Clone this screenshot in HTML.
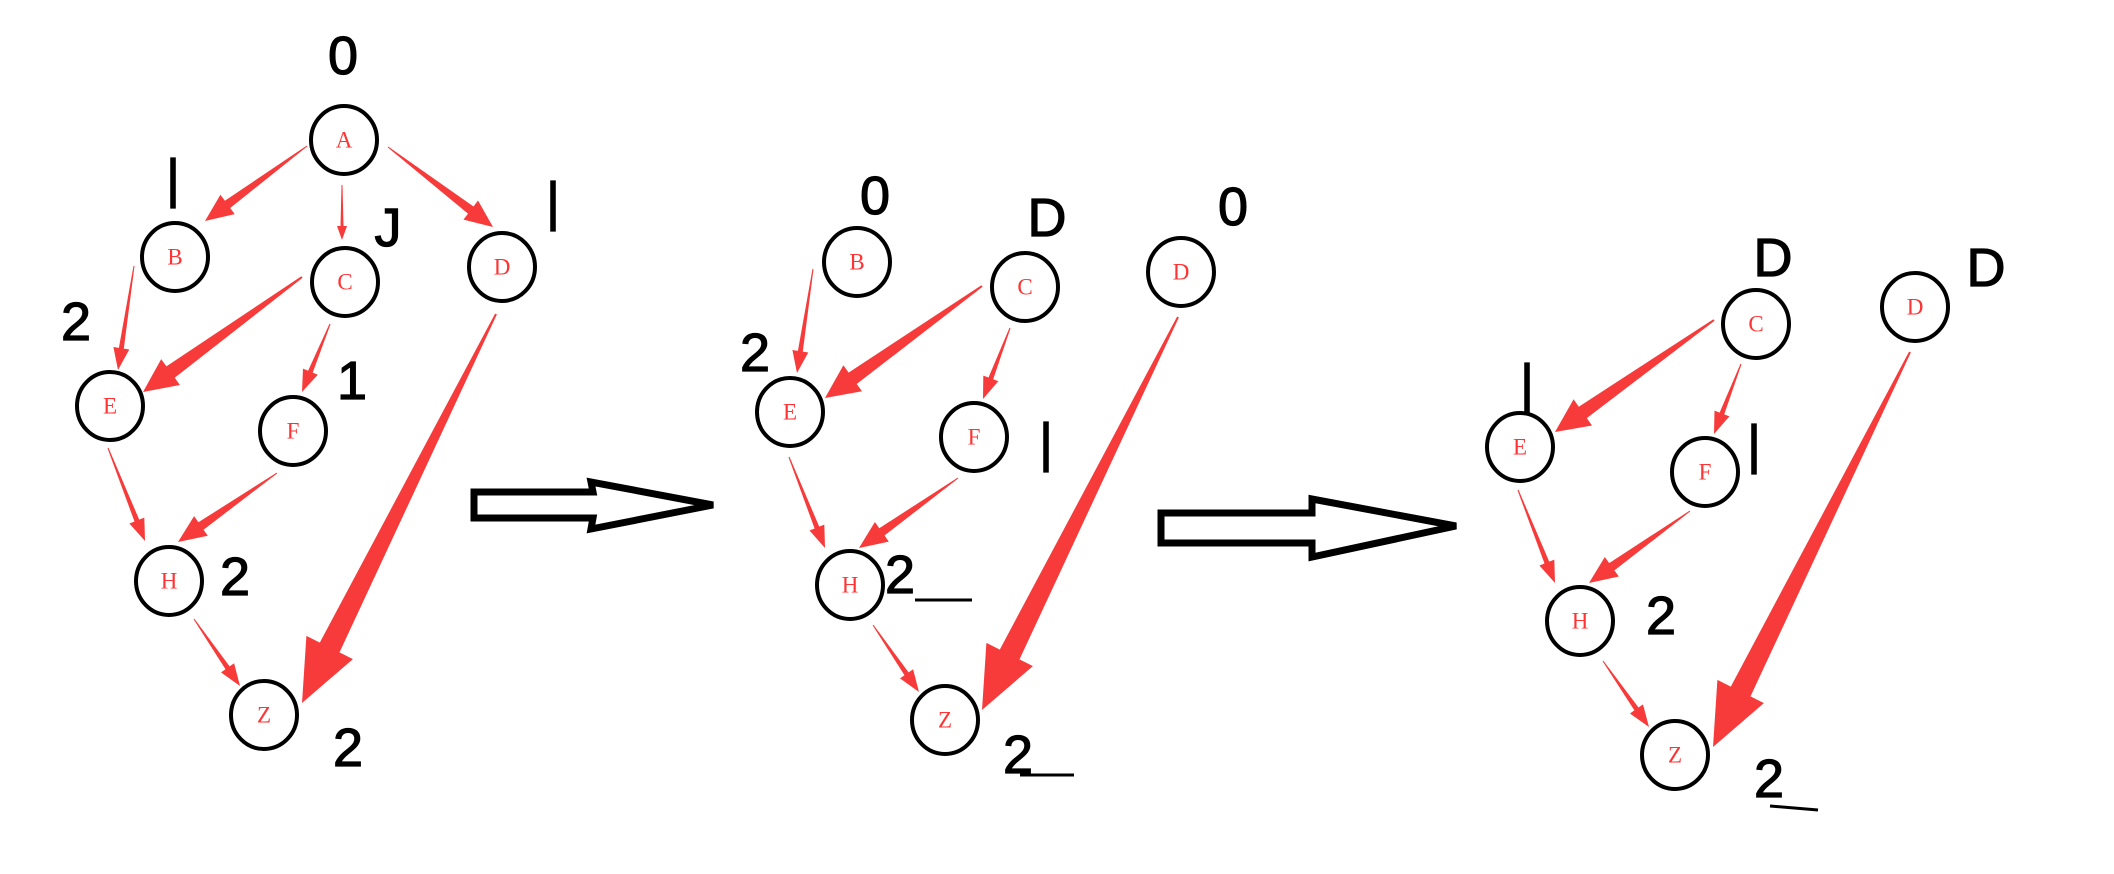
<!DOCTYPE html>
<html><head><meta charset="utf-8"><style>
html,body{margin:0;padding:0;background:#fff;}
svg{display:block;}
.n{fill:none;stroke:#000;stroke-width:4;}
.l{fill:#f33;font-family:"Liberation Serif",serif;font-size:23px;text-anchor:middle;dominant-baseline:central;}
.h{fill:#000;stroke:#000;stroke-width:1.2;font-family:"Liberation Sans",sans-serif;font-size:54px;text-anchor:middle;dominant-baseline:central;}
</style></head><body>
<svg id="s" width="2114" height="874" viewBox="0 0 2114 874" xmlns="http://www.w3.org/2000/svg">
<g id="arrows" fill="#f73a3a"></g>
<g id="nodes"></g>
<polygon points="474,492 593,492 591,482 713,505 591,529 593,518 474,518" fill="#fff" stroke="#000" stroke-width="7" stroke-linejoin="miter"/>
<polygon points="1161,513 1312,513 1312,499 1456,526 1312,557 1312,543 1161,543" fill="#fff" stroke="#000" stroke-width="7"/>
<text class="h" x="343" y="56">0</text>
<text class="h" x="173" y="179">|</text>
<text class="h" x="388" y="228">J</text>
<text class="h" x="553" y="202">|</text>
<text class="h" x="76" y="322">2</text>
<text class="h" x="352" y="381">1</text>
<text class="h" x="235" y="577">2</text>
<text class="h" x="348" y="748">2</text>
<text class="h" x="875" y="196">0</text>
<text class="h" x="1047" y="218">D</text>
<text class="h" x="1233" y="207">0</text>
<text class="h" x="755" y="353">2</text>
<text class="h" x="1046" y="443">|</text>
<text class="h" x="900" y="575">2</text>
<line x1="915" y1="600" x2="972" y2="600" stroke="#000" stroke-width="3"/>
<text class="h" x="1018" y="755">2</text>
<line x1="1020" y1="775" x2="1074" y2="775" stroke="#000" stroke-width="3"/>
<text class="h" x="1773" y="258">D</text>
<text class="h" x="1986" y="268">D</text>
<text class="h" x="1527" y="384">|</text>
<text class="h" x="1754" y="445">|</text>
<text class="h" x="1661" y="616">2</text>
<text class="h" x="1769" y="779">2</text>
<line x1="1770" y1="806" x2="1818" y2="810" stroke="#000" stroke-width="3"/>
</svg>
<script>
var NS="http://www.w3.org/2000/svg";
var nodes=[["A",344,140],["B",175,257],["C",345,282],["D",502,267],["E",110,406],["F",293,431],["H",169,581],["Z",264,715],
["B",857,262],["C",1025,287],["D",1181,272],["E",790,412],["F",974,437],["H",850,585],["Z",945,720],
["C",1756,324],["D",1915,307],["E",1520,447],["F",1705,472],["H",1580,621],["Z",1675,755]];
var g=document.getElementById("nodes");
nodes.forEach(function(n){
 var c=document.createElementNS(NS,"ellipse");c.setAttribute("cx",n[1]);c.setAttribute("cy",n[2]);c.setAttribute("rx",33);c.setAttribute("ry",34);c.setAttribute("class","n");g.appendChild(c);
 var t=document.createElementNS(NS,"text");t.setAttribute("x",n[1]);t.setAttribute("y",n[2]);t.setAttribute("class","l");t.textContent=n[0];g.appendChild(t);
});
var T=[1,5,16,22], M=[1,9,24,28], K=[2,14,32,34], BIG=[2,22,52,62];
var arrows=[
[307,146,205,221,M],[342,185,342,240,[1,3,10,14]],[388,147,493,227,M],[134,266,118,370,T],[302,277,143,392,K],
[330,324,302,392,T],[108,448,145,541,T],[277,473,178,542,M],[194,619,240,686,T],[496,314,302,703,BIG],
[813,269,797,373,T],[982,286,825,398,K],[1010,328,983,399,T],[789,457,825,548,T],[958,478,859,548,M],[873,625,919,692,T],[1178,317,982,710,BIG],
[1714,320,1555,432,K],[1741,364,1714,434,T],[1518,490,1555,583,T],[1690,511,1589,583,M],[1603,661,1649,727,T],[1910,352,1713,747,BIG]];
var ga=document.getElementById("arrows");
arrows.forEach(function(a){
 var x1=a[0],y1=a[1],x2=a[2],y2=a[3],p=a[4];
 var dx=x2-x1,dy=y2-y1,L=Math.sqrt(dx*dx+dy*dy),ux=dx/L,uy=dy/L,nx=-uy,ny=ux;
 var bx=x2-ux*p[3],by=y2-uy*p[3];
 var pts=[[x1+nx*p[0]/2,y1+ny*p[0]/2],[bx+nx*p[1]/2,by+ny*p[1]/2],[bx+nx*p[2]/2,by+ny*p[2]/2],[x2,y2],
 [bx-nx*p[2]/2,by-ny*p[2]/2],[bx-nx*p[1]/2,by-ny*p[1]/2],[x1-nx*p[0]/2,y1-ny*p[0]/2]];
 var pg=document.createElementNS(NS,"polygon");
 pg.setAttribute("points",pts.map(function(q){return q[0].toFixed(1)+","+q[1].toFixed(1)}).join(" "));
 ga.appendChild(pg);
});
</script>
</body></html>
